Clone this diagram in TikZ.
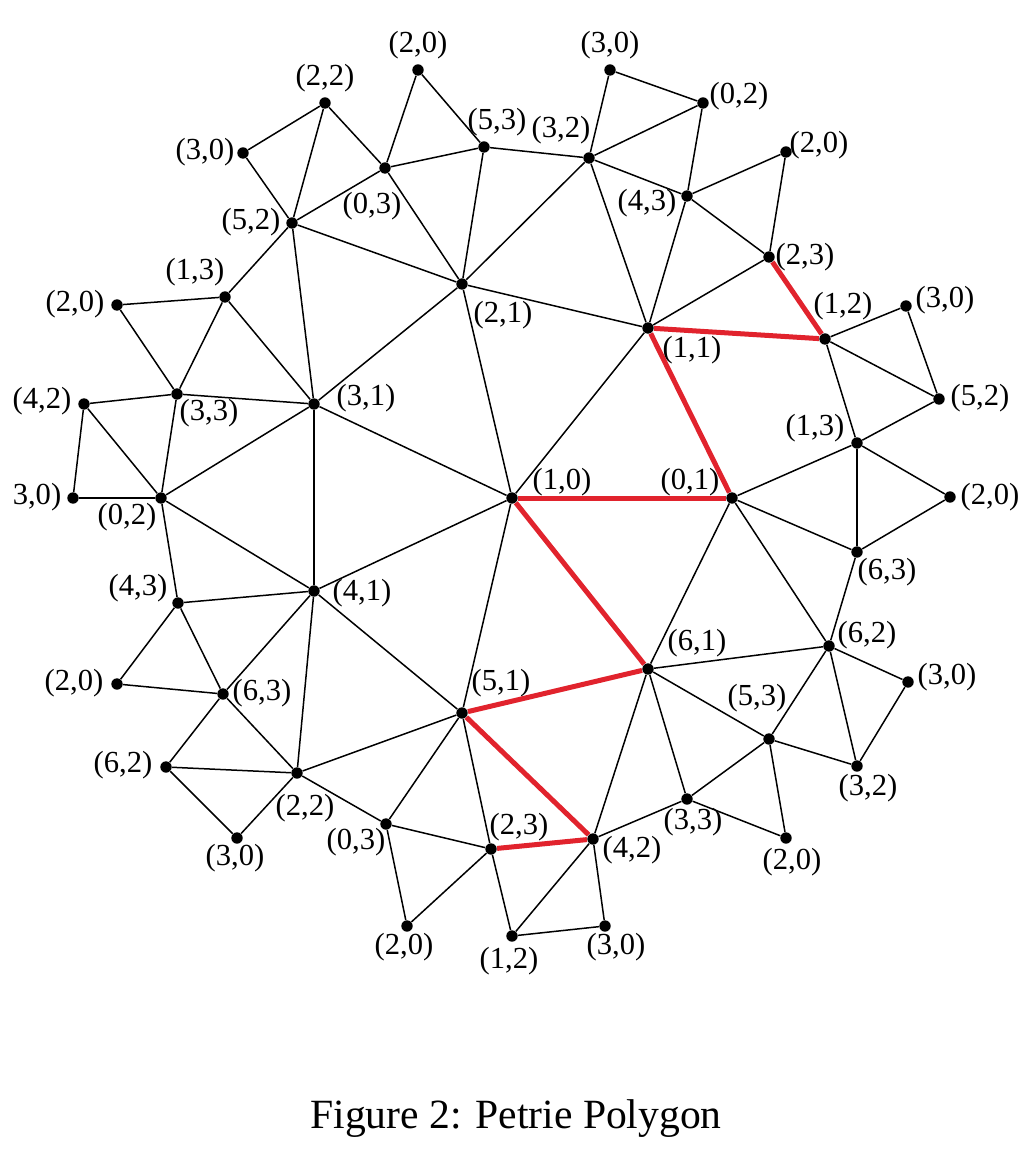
\documentclass[tikz,border=0pt]{standalone}
\usepackage{fontspec}
\setmainfont{Liberation Serif}
\definecolor{petrred}{RGB}{225,35,45}
\newcommand\vtx[4]{\node[dot] (#1) at (#2) {}; \node[lab] (#1l) at (#3) {#4};}
\begin{document}
\begin{tikzpicture}[x=0.5pt,y=-0.5pt,
  dot/.style={circle,fill=black,inner sep=0pt,minimum size=5.7pt},
  lab/.style={font=\fontsize{15.3}{18}\selectfont,inner sep=0pt},
  edge/.style={line width=0.75pt,draw=black},
  petrie/.style={line width=2.5pt,draw=petrred}]
\useasboundingbox (0,0) rectangle (1023,1149);
% outer vertices
\vtx{o1}{418,70}{418,45}{(2,0)}
\vtx{o2}{610,70}{610,45}{(3,0)}
\vtx{o3}{703,103}{739,96}{(0,2)}
\vtx{o4}{786,152}{819,145}{(2,0)}
\vtx{o5}{906,306}{945,300}{(3,0)}
\vtx{o6}{939,399}{980,398}{(5,2)}
\vtx{o7}{950,497}{990,497}{(2,0)}
\vtx{o8}{908,682}{947,677}{(3,0)}
\vtx{o9}{857,766}{868,788}{(3,2)}
\vtx{o10}{786,838}{792,862}{(2,0)}
\vtx{o11}{605,926}{616,947}{(3,0)}
\vtx{o12}{512,936}{509,961}{(1,2)}
\vtx{o13}{407,926}{404,947}{(2,0)}
\vtx{o14}{237,838}{235,858}{(3,0)}
\vtx{o15}{166,767}{123,765}{(6,2)}
\vtx{o16}{117,684}{74,683}{(2,0)}
\vtx{o17}{73,498}{37,497}{3,0)}
\vtx{o18}{84,404}{42,401}{(4,2)}
\vtx{o19}{117,305}{75,304}{(2,0)}
\vtx{o20}{243,153}{205,152}{(3,0)}
\vtx{o21}{325,103}{325,78}{(2,2)}
% middle vertices
\vtx{m1}{484,147}{497,122}{(5,3)}
\vtx{m2}{589,158}{561,130}{(3,2)}
\vtx{m3}{687,196}{647,203}{(4,3)}
\vtx{m4}{769,257}{805,257}{(2,3)}
\vtx{m5}{825,339}{843,306}{(1,2)}
\vtx{m6}{857,443}{815,428}{(1,3)}
\vtx{m7}{857,552}{887,572}{(6,3)}
\vtx{m8}{829,646}{867,635}{(6,2)}
\vtx{m9}{769,739}{757,698}{(5,3)}
\vtx{m10}{687,799}{693,822}{(3,3)}
\vtx{m11}{593,839}{632,850}{(4,2)}
\vtx{m12}{491,849}{519,827}{(2,3)}
\vtx{m13}{386,824}{356,842}{(0,3)}
\vtx{m14}{297,773}{305,808}{(2,2)}
\vtx{m15}{223,694}{262,693}{(6,3)}
\vtx{m16}{178,603}{138,588}{(4,3)}
\vtx{m17}{161,498}{127,517}{(0,2)}
\vtx{m18}{177,394}{209,413}{(3,3)}
\vtx{m19}{225,297}{195,272}{(1,3)}
\vtx{m20}{292,223}{251,222}{(5,2)}
\vtx{m21}{385,168}{372,206}{(0,3)}
% inner vertices
\vtx{a0}{512,498}{562,482}{(1,0)}
\vtx{a1}{732,498}{690,482}{(0,1)}
\vtx{a2}{648,328}{692,350}{(1,1)}
\vtx{a3}{462,284}{503,315}{(2,1)}
\vtx{a4}{314,404}{366,398}{(3,1)}
\vtx{a5}{314,591}{362,593}{(4,1)}
\vtx{a6}{462,713}{501,683}{(5,1)}
\vtx{a7}{648,669}{697,643}{(6,1)}
% black edges
\foreach \u/\v in {
  o1/m21,o1/m1, o2/m2,o2/o3,o3/m2,o3/m3, o4/m3,o4/m4,
  o5/m5,o5/o6,o6/m5,o6/m6, o7/m6,o7/m7,
  o8/m8,o8/o9,o9/m8,o9/m9, o10/m9,o10/m10,
  o11/m11,o11/o12,o12/m11,o12/m12, o13/m12,o13/m13,
  o14/m14,o14/o15,o15/m14,o15/m15, o16/m15,o16/m16,
  o17/m17,o17/o18,o18/m17,o18/m18, o19/m18,o19/m19,
  o20/m20,o20/o21,o21/m20,o21/m21,
  m1/m2,m2/m3,m3/m4,m5/m6,m6/m7,m7/m8,m8/m9,m9/m10,m10/m11,
  m12/m13,m13/m14,m14/m15,m15/m16,m16/m17,m17/m18,m18/m19,m19/m20,m20/m21,m21/m1,
  a3/m20,a3/m21,a3/m1,a3/m2,
  a2/m2,a2/m3,a2/m4,
  a1/m6,a1/m7,a1/m8,
  a7/m8,a7/m9,a7/m10,a7/m11,
  a6/m12,a6/m13,a6/m14,
  a5/m14,a5/m15,a5/m16,a5/m17,
  a4/m17,a4/m18,a4/m19,a4/m20,
  a3/a2,a1/a7,a6/a5,a5/a4,a4/a3,
  a0/a2,a0/a3,a0/a4,a0/a5,a0/a6}
  \draw[edge] (\u) -- (\v);
% Petrie polygon
\foreach \u/\v in {m4/m5,m5/a2,a2/a1,a1/a0,a0/a7,a7/a6,a6/m11,m11/m12}
  \draw[petrie] (\u) -- (\v);
\node[font=\fontsize{20.8}{24}\selectfont,anchor=base,inner sep=0pt] (cap) at (516,1128) {Figure 2: Petrie Polygon};
\end{tikzpicture}
\end{document}
